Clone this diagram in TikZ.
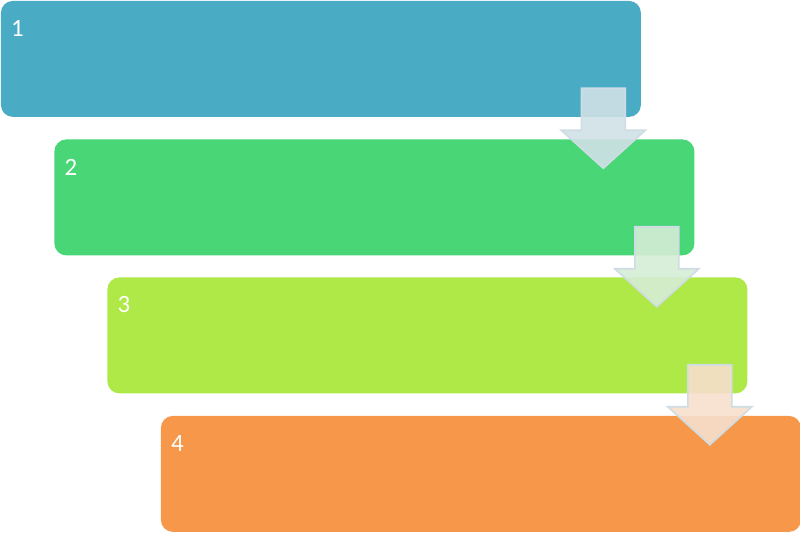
\documentclass[tikz,border=0pt]{standalone}
\usepackage{fontspec}
\setmainfont{Carlito}
\usetikzlibrary{calc}
\definecolor{boxblue}{RGB}{74,171,197}
\definecolor{boxgreen}{RGB}{72,214,118}
\definecolor{boxlime}{RGB}{174,233,72}
\definecolor{boxorange}{RGB}{246,151,73}
\definecolor{arrowblue}{RGB}{208,225,231}
\definecolor{arrowgreen}{RGB}{214,237,214}
\definecolor{arrowpeach}{RGB}{247,223,204}
\definecolor{arrowline}{RGB}{206,220,228}
\begin{document}
\begin{tikzpicture}[x=0.5bp, y=-0.5bp,
	stagebox/.style={rectangle, rounded corners=6bp, anchor=north west, inner sep=0pt,
		minimum width=320bp, minimum height=58bp},
	stagelabel/.style={text=white, font=\fontsize{12.5}{14}\selectfont, inner sep=0pt},
	flowarrow/.style={draw=arrowline, line width=0.8bp, fill opacity=0.9, line join=miter}]
		\useasboundingbox (0,0) rectangle (800,533);
		% stage boxes, stepped down to the right
		\node[stagebox, fill=boxblue] (box1) at (0.5,0.5) {};
		\node[stagebox, fill=boxgreen] (box2) at (54,139) {};
		\node[stagebox, fill=boxlime] (box3) at (107,277) {};
		\node[stagebox, fill=boxorange] (box4) at (160.5,415.5) {};
		% numbers
		\foreach \i in {1,2,3,4}
		{
			\node[stagelabel] (lab\i) at ($(box\i.north west)+(17,28)$) {\i};
		}
		% arrows from one box to the next
		\foreach \i/\c in {1/arrowblue,2/arrowgreen,3/arrowpeach}
		{
			\coordinate (corner\i) at (box\i.south east);
			\draw[flowarrow, fill=\c] ($(corner\i)+(-60,-29)$) -- ++(44,0) -- ++(0,42)
				-- ++(20,0) -- ++(-42,38) -- ++(-42,-38) -- ++(20,0) -- cycle;
		}
\end{tikzpicture}
\end{document}
